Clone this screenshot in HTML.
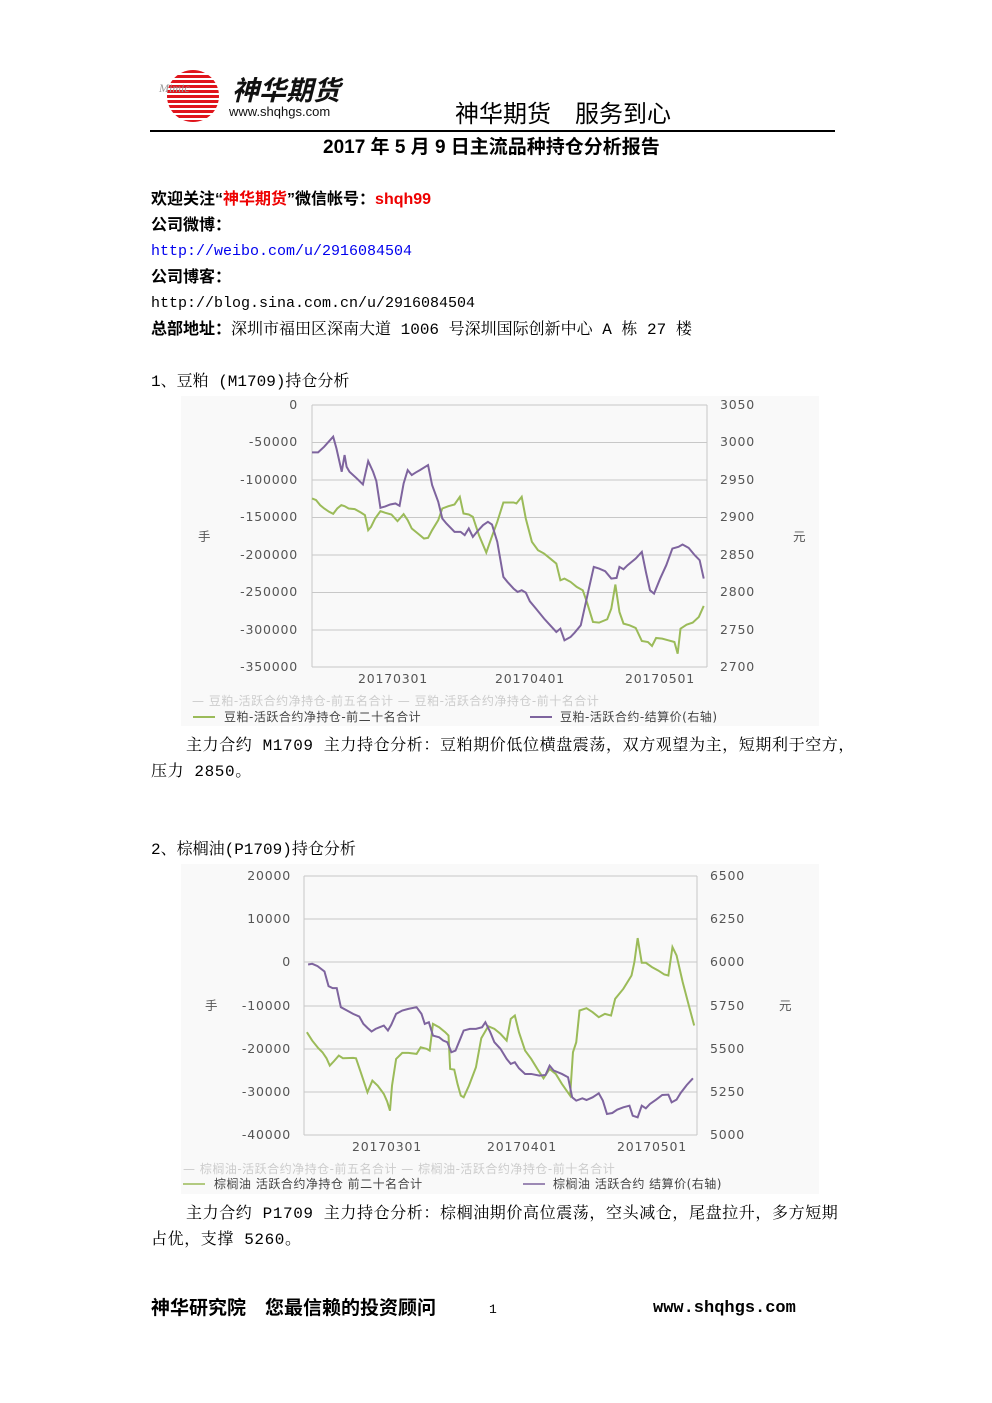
<!DOCTYPE html>
<html><head><meta charset="utf-8"><style>
body{margin:0;background:#fff;}
#p{position:relative;width:992px;height:1403px;overflow:hidden;font-family:"Liberation Mono","Noto Serif CJK SC",serif;color:#000;}
.t{position:absolute;white-space:nowrap;font-size:16px;line-height:20px;}
.b{font-weight:bold;font-family:"Liberation Sans","Noto Sans CJK SC",sans-serif;}
.ax{font-family:"DejaVu Sans","Noto Sans CJK SC",sans-serif;font-size:12.5px;letter-spacing:0.8px;fill:#555;}
.pp{letter-spacing:0.6px;}
</style></head><body><div id="p">
<svg style="position:absolute;left:155px;top:68px" width="200" height="56">
<defs><clipPath id="c"><circle cx="38" cy="28" r="26"/></clipPath></defs>
<g clip-path="url(#c)" fill="#e0141b">
<rect x="0" y="2" width="80" height="3"/><rect x="0" y="7" width="80" height="3"/><rect x="0" y="12" width="80" height="3"/><rect x="0" y="17" width="80" height="3"/><rect x="0" y="22" width="80" height="3"/><rect x="0" y="27" width="80" height="3"/><rect x="0" y="32" width="80" height="3"/><rect x="0" y="37" width="80" height="3"/><rect x="0" y="42" width="80" height="3"/><rect x="0" y="47" width="80" height="3"/><rect x="0" y="52" width="80" height="3"/>
</g>
<text x="4" y="24" font-family="Liberation Serif" font-style="italic" font-size="12" fill="#999">Mimic</text>
<text x="77" y="32" font-family="Liberation Sans,Noto Sans CJK SC,sans-serif" font-weight="bold" font-style="italic" font-size="27" fill="#111">神华期货</text>
<text x="74" y="48" font-family="Liberation Sans,sans-serif" font-size="13" fill="#111">www.shqhgs.com</text>
</svg>
<div class="t" style="left:455px;top:100px;font-size:24px;line-height:29px;font-family:'Liberation Sans','Noto Sans CJK SC',sans-serif">神华期货　服务到心</div>
<div style="position:absolute;left:150px;top:130px;width:685px;height:1.5px;background:#000"></div>
<div class="t b" style="left:323px;top:136px;font-size:19px;line-height:24px;font-family:'Liberation Sans Narrow','Liberation Sans','Noto Sans CJK SC',sans-serif">2017 年 5 月 9 日主流品种持仓分析报告</div>

<div class="t b" style="left:151px;top:190px">欢迎关注“<span style="color:#e00">神华期货</span>”微信帐号：<span style="color:#e00;font-family:'Liberation Sans Narrow','Liberation Sans',sans-serif">shqh99</span></div>
<div class="t b" style="left:151px;top:216px">公司微博：</div>
<div class="t" style="left:151px;top:242px;color:#00e;font-size:15px">http://weibo.com/u/2916084504</div>
<div class="t b" style="left:151px;top:268px">公司博客：</div>
<div class="t" style="left:151px;top:294px;font-size:15px">http://blog.sina.com.cn/u/2916084504</div>
<div class="t" style="left:151px;top:320px"><b class="b">总部地址：</b>深圳市福田区深南大道 1006 号深圳国际创新中心 A 栋 27 楼</div>
<div class="t" style="left:151px;top:372px">1、豆粕 (M1709)持仓分析</div>

<svg style="position:absolute;left:181px;top:396px" width="638" height="330" viewBox="181 396 638 330">
<rect x="181" y="396" width="638" height="330" fill="#f9f9f9"/>
<g stroke="#c8c8c8" stroke-width="1">
<line x1="312" x2="707" y1="405" y2="405"/><line x1="312" x2="707" y1="442.5" y2="442.5"/><line x1="312" x2="707" y1="480" y2="480"/><line x1="312" x2="707" y1="517.5" y2="517.5"/><line x1="312" x2="707" y1="555" y2="555"/><line x1="312" x2="707" y1="592.5" y2="592.5"/><line x1="312" x2="707" y1="630" y2="630"/><line x1="312" x2="707" y1="667" y2="667"/>
<line x1="312" x2="312" y1="405" y2="667"/><line x1="707" x2="707" y1="405" y2="667"/>
</g>
<g class="ax" text-anchor="end">
<text x="298" y="409">0</text><text x="298" y="446">-50000</text><text x="298" y="484">-100000</text><text x="298" y="521">-150000</text><text x="298" y="559">-200000</text><text x="298" y="596">-250000</text><text x="298" y="634">-300000</text><text x="298" y="671">-350000</text>
</g>
<g class="ax"><text x="720" y="409">3050</text><text x="720" y="446">3000</text><text x="720" y="484">2950</text><text x="720" y="521">2900</text><text x="720" y="559">2850</text><text x="720" y="596">2800</text><text x="720" y="634">2750</text><text x="720" y="671">2700</text>
<text x="198" y="541">手</text><text x="793" y="541">元</text>
<text x="358" y="683">20170301</text><text x="495" y="683">20170401</text><text x="625" y="683">20170501</text></g>
<g class="ax" style="font-size:12px;letter-spacing:0.5px"><text x="192" y="705" fill="#ccc">—  豆粕-活跃合约净持仓-前五名合计   —  豆粕-活跃合约净持仓-前十名合计</text>
<line x1="193" x2="215" y1="717" y2="717" stroke="#9bbb59" stroke-width="2"/><text x="224" y="721" fill="#444">豆粕-活跃合约净持仓-前二十名合计</text>
<line x1="530" x2="552" y1="717" y2="717" stroke="#7e649e" stroke-width="2"/><text x="560" y="721" fill="#444">豆粕-活跃合约-结算价(右轴)</text></g>
<g transform="translate(312,405) scale(0.4072,0.3338) translate(-320,-30)" fill="none">
<polyline vector-effect="non-scaling-stroke" stroke="#9bbb59" stroke-width="2" points="320,310 330,315 340,330 350,340 362,350 372,356 382,340 392,330 400,333 410,340 425,342 440,352 450,360 458,405 465,395 475,370 488,348 500,353 515,358 530,378 545,357 555,375 565,400 580,415 595,430 605,428 615,405 630,375 640,340 655,333 670,328 683,305 692,355 705,358 715,365 730,420 748,472 760,430 775,380 790,322 805,322 815,322 822,325 835,305 845,370 860,440 875,465 890,475 905,490 920,505 930,555 940,550 955,560 970,575 985,585 995,620 1010,680 1025,682 1045,672 1055,640 1065,568 1075,650 1085,685 1100,690 1115,698 1130,737 1145,740 1155,752 1165,728 1180,730 1195,735 1210,740 1218,775 1225,700 1240,688 1255,682 1270,665 1282,632"/>
<polyline vector-effect="non-scaling-stroke" stroke="#7e649e" stroke-width="2" points="320,172 335,172 350,155 372,125 380,160 393,230 400,180 405,215 412,230 430,250 445,268 458,198 470,230 478,258 488,338 500,334 512,328 525,325 535,332 545,265 555,225 565,240 575,232 585,225 605,210 615,270 630,320 640,370 650,385 670,410 685,410 695,420 705,400 715,425 725,410 740,390 752,380 762,388 775,440 790,545 800,560 815,580 825,590 835,585 845,592 855,618 870,640 890,670 905,690 920,710 930,700 940,735 955,725 965,712 980,690 990,635 1000,580 1012,515 1025,520 1040,528 1055,550 1068,548 1075,515 1085,522 1095,510 1105,500 1115,490 1130,470 1140,530 1150,585 1160,595 1175,550 1190,510 1205,460 1220,455 1230,448 1245,458 1260,480 1272,495 1282,550"/>
</g>
</svg>

<div class="t pp" style="left:186px;top:736px">主力合约 M1709 主力持仓分析：豆粕期价低位横盘震荡，双方观望为主，短期利于空方，</div>
<div class="t pp" style="left:151px;top:762px">压力 2850。</div>
<div class="t" style="left:151px;top:840px">2、棕榈油(P1709)持仓分析</div>

<svg style="position:absolute;left:181px;top:864px" width="638" height="330" viewBox="181 864 638 330">
<rect x="181" y="864" width="638" height="330" fill="#f9f9f9"/>
<g stroke="#c8c8c8" stroke-width="1">
<line x1="304" x2="697" y1="876" y2="876"/><line x1="304" x2="697" y1="919" y2="919"/><line x1="304" x2="697" y1="962" y2="962"/><line x1="304" x2="697" y1="1006" y2="1006"/><line x1="304" x2="697" y1="1049" y2="1049"/><line x1="304" x2="697" y1="1092" y2="1092"/><line x1="304" x2="697" y1="1135" y2="1135"/>
<line x1="304" x2="304" y1="876" y2="1135"/><line x1="697" x2="697" y1="876" y2="1135"/>
</g>
<g class="ax" text-anchor="end">
<text x="291" y="880">20000</text><text x="291" y="923">10000</text><text x="291" y="966">0</text><text x="291" y="1010">-10000</text><text x="291" y="1053">-20000</text><text x="291" y="1096">-30000</text><text x="291" y="1139">-40000</text>
</g>
<g class="ax"><text x="710" y="880">6500</text><text x="710" y="923">6250</text><text x="710" y="966">6000</text><text x="710" y="1010">5750</text><text x="710" y="1053">5500</text><text x="710" y="1096">5250</text><text x="710" y="1139">5000</text>
<text x="205" y="1010">手</text><text x="779" y="1010">元</text>
<text x="352" y="1151">20170301</text><text x="487" y="1151">20170401</text><text x="617" y="1151">20170501</text></g>
<g class="ax" style="font-size:12px;letter-spacing:0.5px"><text x="183" y="1173" fill="#ccc">—  棕榈油-活跃合约净持仓-前五名合计   —  棕榈油-活跃合约净持仓-前十名合计</text>
<line x1="183" x2="205" y1="1184" y2="1184" stroke="#9bbb59" stroke-width="1.5"/><text x="214" y="1188" fill="#444">棕榈油 活跃合约净持仓 前二十名合计</text>
<line x1="523" x2="545" y1="1184" y2="1184" stroke="#7e649e" stroke-width="1.5"/><text x="553" y="1188" fill="#444">棕榈油 活跃合约 结算价(右轴)</text></g>
<g transform="translate(304,876) scale(0.4094,0.3338) translate(-305,-42)" fill="none">
<polyline vector-effect="non-scaling-stroke" stroke="#9bbb59" stroke-width="2" points="312,510 325,535 340,558 350,570 360,588 368,610 378,597 390,580 400,588 425,587 432,588 445,635 460,690 472,655 485,670 500,695 508,717 515,745 520,670 530,590 545,572 560,572 580,575 590,555 605,560 612,565 620,485 635,495 650,510 658,520 662,620 672,622 680,665 688,700 695,705 708,670 725,615 738,528 755,492 770,500 785,515 800,535 810,470 820,460 830,510 845,565 860,590 875,620 890,648 905,620 920,635 935,665 955,700 962,570 970,540 978,445 995,438 1010,450 1025,465 1040,455 1055,460 1065,410 1085,380 1105,340 1112,300 1120,228 1130,302 1140,302 1155,315 1170,325 1185,337 1195,340 1205,255 1215,280 1230,360 1245,430 1258,490"/>
<polyline vector-effect="non-scaling-stroke" stroke="#7e649e" stroke-width="2" points="315,307 325,305 338,312 355,328 365,372 375,378 385,378 395,435 410,445 425,455 440,463 450,485 460,497 470,508 480,500 490,495 500,490 510,505 518,488 530,455 545,445 560,440 580,435 592,455 600,485 610,480 620,520 635,525 645,535 655,540 665,570 675,565 685,535 695,505 710,500 725,500 740,495 748,480 760,510 770,540 785,560 800,590 810,605 820,600 830,618 845,635 860,635 880,640 895,638 905,610 915,625 935,635 950,645 960,705 970,715 985,708 995,713 1010,705 1025,693 1035,715 1045,755 1058,752 1070,742 1085,735 1100,730 1108,760 1120,765 1130,730 1140,738 1150,725 1165,712 1180,698 1195,697 1203,720 1215,712 1225,692 1240,668 1255,648"/>
</g>
</svg>

<div class="t pp" style="left:186px;top:1204px">主力合约 P1709 主力持仓分析：棕榈油期价高位震荡，空头减仓，尾盘拉升，多方短期</div>
<div class="t pp" style="left:151px;top:1230px">占优，支撑 5260。</div>

<div class="t b" style="left:151px;top:1298px;font-size:19px;line-height:22px">神华研究院　您最信赖的投资顾问</div>
<div class="t" style="left:489px;top:1300px;font-size:13px">1</div>
<div class="t" style="left:653px;top:1299px;font-size:17px;font-weight:bold">www.shqhgs.com</div>
</div></body></html>
